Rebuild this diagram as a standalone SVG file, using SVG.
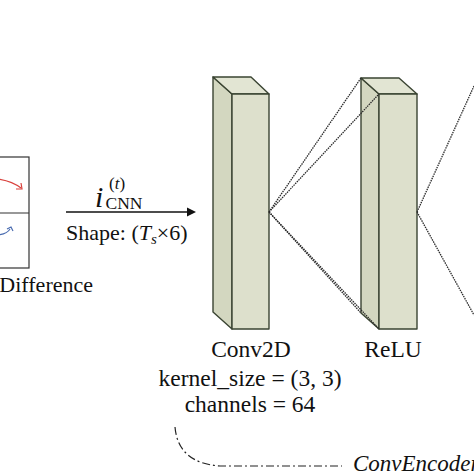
<svg xmlns="http://www.w3.org/2000/svg" width="474" height="474" viewBox="0 0 474 474">
<style>
.t{font-family:"Liberation Serif","Times New Roman",serif;fill:#111}
.blk{stroke:#3a4432;stroke-width:1.4;stroke-linejoin:round}
.front{fill:#dde0cc}
.side{fill:#d3d7c0}
.top{fill:#e2e5d3}
.dot{stroke:#2a2a2a;stroke-width:1.3;stroke-dasharray:1.5 0.9;fill:none}
</style>
<rect width="474" height="474" fill="#fff"/>
<g id="input-panel">
<rect x="-5" y="157" width="34" height="111" fill="none" stroke="#333" stroke-width="1.2"/>
<line x1="-5" y1="213" x2="29" y2="213" stroke="#333" stroke-width="1.2"/>
<path d="M -2,179 Q 12,181 21,188" fill="none" stroke="#d9403c" stroke-width="1.2"/>
<polyline points="16,189 22,189 21,183" fill="none" stroke="#d9403c" stroke-width="1.2"/>
<path d="M -2,235 Q 7,234 10,229" fill="none" stroke="#4a6cb0" stroke-width="1.2"/>
<polyline points="7,229 11,227 13,231" fill="none" stroke="#4a6cb0" stroke-width="1.2"/>
<text class="t" x="93" y="292" font-size="22" text-anchor="end">Difference</text>
</g>
<g id="conv2d">
<polygon class="blk side" points="213,77 232,94 232,329 213,312"/>
<polygon class="blk top" points="213,77 251,77 269,94 232,94"/>
<rect class="blk front" x="232" y="94" width="37" height="235"/>
<text class="t" x="251" y="357" font-size="23.5" text-anchor="middle">Conv2D</text>
<text class="t" x="250" y="386" font-size="23.5" text-anchor="middle">kernel_size = (3, 3)</text>
<text class="t" x="250" y="412" font-size="23.5" text-anchor="middle">channels = 64</text>
</g>
<g id="relu">
<polygon class="blk side" points="361,78 379,94 379,329 361,313"/>
<polygon class="blk top" points="361,78 399,78 417,94 379,94"/>
<rect class="blk front" x="379" y="94" width="38" height="235"/>
<text class="t" x="393" y="357" font-size="23.5" text-anchor="middle">ReLU</text>
</g>
<g id="connectors">
<line x1="66" y1="212" x2="188" y2="212" stroke="#111" stroke-width="1.4"/>
<polygon points="187,207.5 196,212 187,216.5" fill="#111"/>
<line class="dot" x1="269" y1="212" x2="361" y2="78"/>
<line class="dot" x1="269" y1="212" x2="379" y2="94"/>
<line class="dot" x1="269" y1="212" x2="361" y2="313"/>
<line class="dot" x1="269" y1="212" x2="379" y2="329"/>
<line class="dot" x1="417" y1="212" x2="474" y2="86"/>
<line class="dot" x1="417" y1="212" x2="474" y2="315"/>
<path d="M 175,427 Q 178,463 220,466 L 342,466" fill="none" stroke="#222" stroke-width="1.2" stroke-dasharray="8 3 2 3"/>
</g>
<g id="labels">
<text class="t" x="95" y="207" font-size="30"><tspan font-style="italic">i</tspan><tspan font-size="17.5" x="105.5" y="209">CNN</tspan><tspan font-size="17" x="109" y="189">(<tspan font-style="italic">t</tspan>)</tspan></text>
<text class="t" x="66" y="240" font-size="22">Shape: (<tspan font-style="italic">T</tspan><tspan font-style="italic" font-size="15" dy="4">s</tspan><tspan dy="-4">×6)</tspan></text>
<text class="t" x="353" y="471" font-size="23" font-style="italic">ConvEncoder</text>
</g>
</svg>
